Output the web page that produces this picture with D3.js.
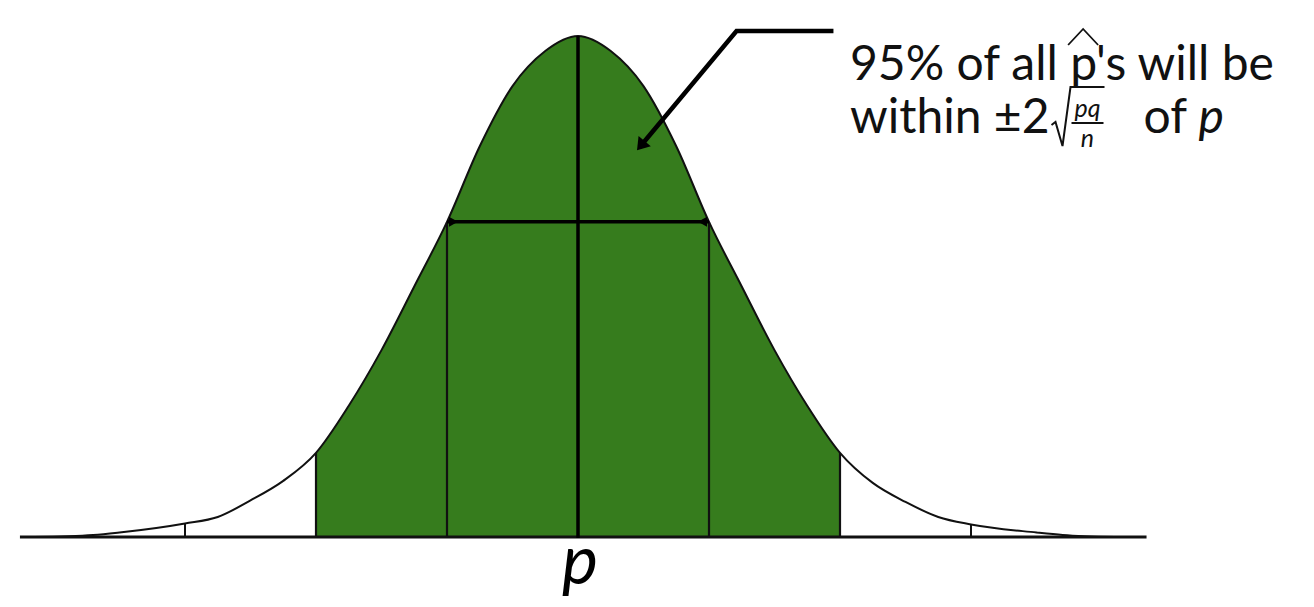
<!DOCTYPE html>
<html>
<head>
<meta charset="utf-8">
<script src="https://cdn.jsdelivr.net/npm/d3@7"></script>
<style>
  body { margin: 0; background: #fff; }
  svg { display: block; }
</style>
</head>
<body>
<div id="chart"></div>
<script>
// Curve: position in sigma units and height as a share of the peak
const zValues = [-4.15, -3.7, -3.5, -3, -2.75, -2.5, -2.25, -2, -1.75, -1.5, -1.25, -1, -0.75, -0.5, -0.25, 0,
                 0.25, 0.5, 0.75, 1, 1.25, 1.5, 1.75, 2, 2.25, 2.5, 2.75, 3, 3.5, 3.7, 4.1];
const heights = [0, 0.004, 0.009, 0.027, 0.04, 0.073, 0.112, 0.168, 0.262, 0.373, 0.5, 0.629, 0.78, 0.90, 0.97, 1,
                 0.97, 0.90, 0.78, 0.629, 0.5, 0.373, 0.262, 0.168, 0.108, 0.07, 0.04, 0.025, 0.009, 0.004, 0];
const shadeRange = [-2, 2];
const sigmaLines = [-2, -1, 1, 2];
const tickMarks = [-3, 3];
const axisExtent = [-4.26, 4.34];
const axisLabel = 'p';
const noteLine1 = ['95% of all ', 'p', '\'s will be'];
const noteLine2 = ['within ±2', 'pq', 'n', 'of ', 'p'];

const width = 1314, height = 607;
const green = '#367c1d';
const font = 'Lato, "Open Sans", sans-serif';

const points = zValues.map((z, i) => ({ z: z, h: heights[i] }));
const heightAt = z => points.find(p => p.z === z).h;

const x = d3.scaleLinear().domain([0, 1]).range([578, 709]);
const y = d3.scaleLinear().domain([0, 1]).range([537, 36]);

const svg = d3.select('#chart')
    .append('svg')
    .attr('width', width)
    .attr('height', height);

// Clip for the shaded 95% band
svg.append('clipPath')
    .attr('id', 'band')
    .append('rect')
    .attr('x', x(shadeRange[0]))
    .attr('y', 0)
    .attr('width', x(shadeRange[1]) - x(shadeRange[0]))
    .attr('height', y(0));

const area = d3.area()
    .x(d => x(d.z))
    .y0(y(0))
    .y1(d => y(d.h))
    .curve(d3.curveMonotoneX);

const line = d3.line()
    .x(d => x(d.z))
    .y(d => y(d.h))
    .curve(d3.curveMonotoneX);

svg.append('path')
    .datum(points)
    .attr('d', area)
    .attr('fill', green)
    .attr('clip-path', 'url(#band)');

svg.append('path')
    .datum(points)
    .attr('d', line)
    .attr('fill', 'none')
    .attr('stroke', '#111')
    .attr('stroke-width', 2);

// Vertical lines at +-1 and +-2 sigma
svg.append('g')
    .selectAll('line')
    .data(sigmaLines)
    .enter().append('line')
    .attr('x1', d => x(d))
    .attr('x2', d => x(d))
    .attr('y1', y(0))
    .attr('y2', d => y(heightAt(d)))
    .attr('stroke', '#111')
    .attr('stroke-width', 2.2);

// Small ticks at +-3 sigma
svg.append('g')
    .selectAll('line')
    .data(tickMarks)
    .enter().append('line')
    .attr('x1', d => x(d))
    .attr('x2', d => x(d))
    .attr('y1', y(0))
    .attr('y2', d => y(heightAt(d)))
    .attr('stroke', '#111')
    .attr('stroke-width', 2);

// Baseline
svg.append('line')
    .attr('x1', x(axisExtent[0]))
    .attr('x2', x(axisExtent[1]))
    .attr('y1', y(0))
    .attr('y2', y(0))
    .attr('stroke', '#111')
    .attr('stroke-width', 3);

// Centre line up to the peak
svg.append('line')
    .attr('x1', x(0))
    .attr('x2', x(0))
    .attr('y1', y(0) + 1)
    .attr('y2', y(1))
    .attr('stroke', '#000')
    .attr('stroke-width', 3.5);

// Double arrow between -1 and +1 sigma
const hy = y(heightAt(1));
svg.append('line')
    .attr('x1', x(-1))
    .attr('x2', x(1))
    .attr('y1', hy)
    .attr('y2', hy)
    .attr('stroke', '#000')
    .attr('stroke-width', 3.5);

svg.append('g')
    .selectAll('path')
    .data([-1, 1])
    .enter().append('path')
    .attr('d', d => {
        const px = x(d) - d * 2;
        return `M${px},${hy - 5}L${px - d * 9},${hy}L${px},${hy + 5}Z`;
    })
    .attr('fill', '#000');

// Pointer from the note into the shaded area
const pointer = [[1.95, 1.01], [1.21, 1.01], [0.47, 0.778]];
svg.append('path')
    .attr('d', d3.line().x(d => x(d[0])).y(d => y(d[1]))(pointer))
    .attr('fill', 'none')
    .attr('stroke', '#000')
    .attr('stroke-width', 4.5);

const tip = pointer[2], prev = pointer[1];
const ang = Math.atan2(y(tip[1]) - y(prev[1]), x(tip[0]) - x(prev[0])) * 180 / Math.PI;
svg.append('path')
    .attr('transform', `translate(${x(tip[0])},${y(tip[1])}) rotate(${ang})`)
    .attr('d', 'M4,0L-8,-8L-8,8Z')
    .attr('fill', '#000');

// Axis label
svg.append('text')
    .attr('x', x(0) + 2)
    .attr('y', 584)
    .attr('text-anchor', 'middle')
    .attr('font-family', font)
    .attr('font-style', 'italic')
    .attr('font-size', 68)
    .attr('fill', '#000')
    .text(axisLabel);

// Note, first line
const noteX = 850;
const fs = 48;
const base1 = 80;
const t1 = svg.append('text')
    .attr('x', noteX)
    .attr('y', base1)
    .attr('font-family', font)
    .attr('font-size', fs)
    .attr('fill', '#111');
t1.append('tspan').text(noteLine1[0]);
t1.append('tspan').text(noteLine1[1]);
t1.append('tspan').text(noteLine1[2]);

// hat over the p
const pIndex = noteLine1[0].length;
const pBox = t1.node().getExtentOfChar(pIndex);
const hatCx = pBox.x + pBox.width / 2;
svg.append('path')
    .attr('d', `M${hatCx - 15},${base1 - 35}L${hatCx},${base1 - 51}L${hatCx + 15},${base1 - 35}`)
    .attr('fill', 'none')
    .attr('stroke', '#111')
    .attr('stroke-width', 1.8);

// Note, second line with the radical
const base2 = 133;
const t2 = svg.append('text')
    .attr('x', noteX)
    .attr('y', base2)
    .attr('font-family', font)
    .attr('font-size', fs)
    .attr('fill', '#111')
    .text(noteLine2[0]);
const cx = noteX + t2.node().getComputedTextLength() + 2;

const fracW = 32;
svg.append('path')
    .attr('d', `M${cx},${base2 - 8}L${cx + 4},${base2 - 11}L${cx + 11},${base2 + 13}L${cx + 19},${base2 - 46}L${cx + 19 + fracW + 2},${base2 - 46}`)
    .attr('fill', 'none')
    .attr('stroke', '#111')
    .attr('stroke-width', 2);
const fx = cx + 20;
svg.append('text')
    .attr('x', fx + fracW / 2)
    .attr('y', base2 - 16)
    .attr('text-anchor', 'middle')
    .attr('font-family', font)
    .attr('font-style', 'italic')
    .attr('font-size', 25)
    .attr('fill', '#111')
    .text(noteLine2[1]);
svg.append('line')
    .attr('x1', fx).attr('x2', fx + fracW)
    .attr('y1', base2 - 10).attr('y2', base2 - 10)
    .attr('stroke', '#111').attr('stroke-width', 1.8);
svg.append('text')
    .attr('x', fx + fracW / 2)
    .attr('y', base2 + 14)
    .attr('text-anchor', 'middle')
    .attr('font-family', font)
    .attr('font-style', 'italic')
    .attr('font-size', 25)
    .attr('fill', '#111')
    .text(noteLine2[2]);

const t3 = svg.append('text')
    .attr('x', fx + fracW + 40)
    .attr('y', base2)
    .attr('font-family', font)
    .attr('font-size', fs)
    .attr('fill', '#111');
t3.append('tspan').text(noteLine2[3]);
t3.append('tspan').attr('font-style', 'italic').text(noteLine2[4]);
</script>
</body>
</html>
